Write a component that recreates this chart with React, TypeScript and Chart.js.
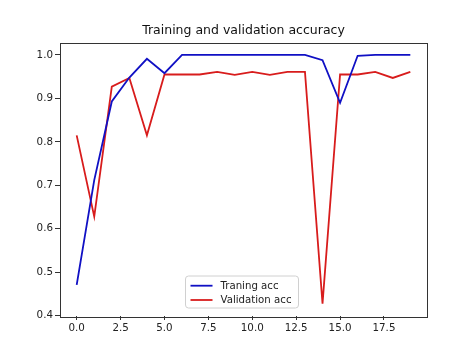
import React, { useEffect, useRef } from "react";
import { Chart, registerables } from "chart.js";

Chart.register(...registerables);

const epochs = [0, 1, 2, 3, 4, 5, 6, 7, 8, 9, 10, 11, 12, 13, 14, 15, 16, 17, 18, 19];
const trainAcc = [0.471, 0.712, 0.893, 0.948, 0.991, 0.958, 1.0, 1.0, 1.0, 1.0, 1.0, 1.0, 1.0, 1.0, 0.988, 0.890, 0.998, 1.0, 1.0, 1.0];
const valAcc = [0.815, 0.628, 0.927, 0.947, 0.815, 0.955, 0.955, 0.955, 0.961, 0.954, 0.961, 0.954, 0.961, 0.961, 0.428, 0.955, 0.955, 0.961, 0.947, 0.961];
const xTicks = [0, 2.5, 5, 7.5, 10, 12.5, 15, 17.5];
const yTicks = [0.4, 0.5, 0.6, 0.7, 0.8, 0.9, 1.0];
const titleText = "Training and validation accuracy";
const trainLabel = "Traning acc";
const valLabel = "Validation acc";

const FONT = "'DejaVu Sans', sans-serif";

export default function App() {
  const ref = useRef<HTMLCanvasElement | null>(null);

  useEffect(() => {
    const canvas = ref.current;
    if (!canvas) return;
    const all = [...trainAcc, ...valAcc];
    const dMin = Math.min(...all);
    const dMax = Math.max(...all);
    const yPad = (dMax - dMin) * 0.05;
    const xPad = (epochs[epochs.length - 1] - epochs[0]) * 0.05;

    const framePlugin = {
      id: "frame",
      afterDraw(chart: any) {
        const { ctx, chartArea: a } = chart;
        ctx.save();
        // spines
        ctx.strokeStyle = "#333";
        ctx.lineWidth = 1;
        ctx.strokeRect(Math.round(a.left) + 0.5, Math.round(a.top) + 0.5, Math.round(a.right - a.left), Math.round(a.bottom - a.top));
        // title
        ctx.fillStyle = "#111";
        ctx.font = `12.5px ${FONT}`;
        ctx.textAlign = "center";
        ctx.textBaseline = "middle";
        ctx.fillText(titleText, (a.left + a.right) / 2, a.top - 11.5);
        // legend
        ctx.font = `10.2px ${FONT}`;
        const items = chart.data.datasets.map((d: any) => ({ label: d.label, color: d.borderColor }));
        const tw = Math.max(...items.map((it: any) => ctx.measureText(it.label).width));
        const w = 5 + 22 + 8 + tw + 7;
        const h = 32;
        const cx = (a.left + a.right) / 2 - 1.5;
        const x0 = cx - w / 2;
        const y0 = a.bottom - 8 - h;
        ctx.beginPath();
        const r = 3;
        ctx.moveTo(x0 + r, y0);
        ctx.lineTo(x0 + w - r, y0);
        ctx.quadraticCurveTo(x0 + w, y0, x0 + w, y0 + r);
        ctx.lineTo(x0 + w, y0 + h - r);
        ctx.quadraticCurveTo(x0 + w, y0 + h, x0 + w - r, y0 + h);
        ctx.lineTo(x0 + r, y0 + h);
        ctx.quadraticCurveTo(x0, y0 + h, x0, y0 + h - r);
        ctx.lineTo(x0, y0 + r);
        ctx.quadraticCurveTo(x0, y0, x0 + r, y0);
        ctx.closePath();
        ctx.fillStyle = "rgba(255,255,255,0.8)";
        ctx.fill();
        ctx.strokeStyle = "#d0d0d0";
        ctx.stroke();
        items.forEach((it: any, i: number) => {
          const yy = y0 + 9.7 + i * 14.3;
          ctx.strokeStyle = it.color;
          ctx.lineWidth = 1.8;
          ctx.beginPath();
          ctx.moveTo(x0 + 5, yy);
          ctx.lineTo(x0 + 27, yy);
          ctx.stroke();
          ctx.fillStyle = "#222";
          ctx.textAlign = "left";
          ctx.textBaseline = "middle";
          ctx.fillText(it.label, x0 + 35, yy + 0.5);
        });
        ctx.restore();
      },
    };

    const chart = new Chart(canvas, {
      type: "line",
      data: {
        datasets: [
          {
            label: trainLabel,
            data: epochs.map((e, i) => ({ x: e, y: trainAcc[i] })),
            borderColor: "#1010c4",
            borderWidth: 1.8,
            pointRadius: 0,
            tension: 0,
            fill: false,
          },
          {
            label: valLabel,
            data: epochs.map((e, i) => ({ x: e, y: valAcc[i] })),
            borderColor: "#d81c1c",
            borderWidth: 1.8,
            pointRadius: 0,
            tension: 0,
            fill: false,
          },
        ],
      },
      options: {
        responsive: false,
        animation: false,
        layout: { padding: { top: 42.5, right: 47, left: 0, bottom: 0 } },
        plugins: {
          legend: { display: false },
          title: { display: false },
          tooltip: { enabled: false },
        },
        scales: {
          x: {
            type: "linear",
            min: epochs[0] - xPad,
            max: epochs[epochs.length - 1] + xPad,
            afterBuildTicks: (s: any) => {
              s.ticks = xTicks.map((v) => ({ value: v }));
            },
            afterFit: (s: any) => {
              s.height = 39;
            },
            ticks: {
              callback: (v: any) => Number(v).toFixed(1),
              font: { family: FONT, size: 10.3 },
              color: "#222",
              padding: 2,
              maxRotation: 0,
              autoSkip: false,
            },
            grid: { drawOnChartArea: false, drawTicks: true, tickLength: 4, color: "#333" },
            border: { display: false },
          },
          y: {
            type: "linear",
            min: dMin - yPad,
            max: dMax + yPad,
            afterBuildTicks: (s: any) => {
              s.ticks = yTicks.map((v) => ({ value: v }));
            },
            afterFit: (s: any) => {
              s.width = 60;
            },
            ticks: {
              callback: (v: any) => Number(v).toFixed(1),
              font: { family: FONT, size: 10.3 },
              color: "#222",
              padding: 2,
              autoSkip: false,
            },
            grid: { drawOnChartArea: false, drawTicks: true, tickLength: 5, color: "#333" },
            border: { display: false },
          },
        },
      },
      plugins: [framePlugin],
    } as any);
    return () => chart.destroy();
  }, []);

  return (
    <div style={{ position: "fixed", left: 0, top: 0, width: 474, height: 355, background: "#fff" }}>
      <canvas ref={ref} width={474} height={355} style={{ width: 474, height: 355, display: "block" }} />
    </div>
  );
}
